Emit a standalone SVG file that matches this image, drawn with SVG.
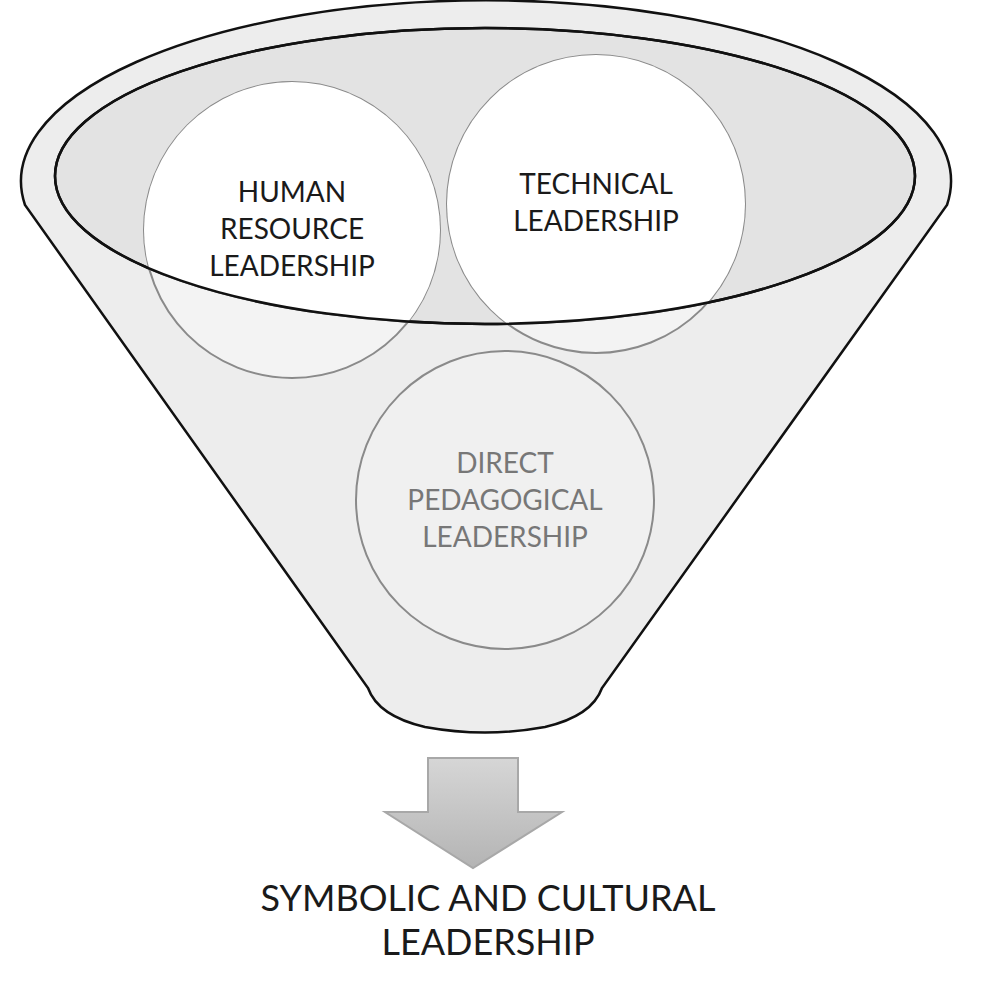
<svg xmlns="http://www.w3.org/2000/svg" width="987" height="986" viewBox="0 0 987 986">
<style>
.t{font-family:Lato,"Open Sans","Liberation Sans",sans-serif;font-size:28px;text-anchor:middle;fill:#1a1a1a}
.c{stroke:#8a8a8a;stroke-width:2}
</style>
<defs>
<clipPath id="ie"><ellipse cx="485" cy="176" rx="430" ry="148"/></clipPath>
<linearGradient id="ag" x1="0" y1="0" x2="0" y2="1"><stop offset="0" stop-color="#d6d6d6"/><stop offset="1" stop-color="#b4b4b4"/></linearGradient>
</defs>
<rect width="987" height="986" fill="#fff"/>
<g id="funnel">
<path d="M25,205 A465,181 0 1 1 947,205 L602,688 Q592,716 545,727 Q485,738 425,727 Q378,716 368,688 Z" fill="#ededed" stroke="#111" stroke-width="2.5"/>
<ellipse cx="485" cy="176" rx="430" ry="148" fill="#e3e3e3" stroke="#111" stroke-width="2.5"/>
</g>
<g id="hr">
<circle cx="292" cy="230" r="148" fill="#fff" fill-opacity="0.35" class="c"/>
<circle cx="292" cy="230" r="148" fill="#fff" clip-path="url(#ie)"/>
<text class="t" x="292" y="202">HUMAN</text>
<text class="t" x="292" y="239">RESOURCE</text>
<text class="t" x="292" y="276">LEADERSHIP</text>
</g>
<g id="tech">
<circle cx="596" cy="204" r="149" fill="#fff" fill-opacity="0.35" class="c"/>
<circle cx="596" cy="204" r="149" fill="#fff" clip-path="url(#ie)"/>
<text class="t" x="596" y="194">TECHNICAL</text>
<text class="t" x="596" y="231">LEADERSHIP</text>
</g>
<ellipse cx="485" cy="176" rx="430" ry="148" fill="none" stroke="#111" stroke-width="2.5"/>
<g id="direct">
<circle cx="505" cy="500" r="149" fill="#fff" fill-opacity="0.2" class="c"/>
<text class="t" x="505" y="473" style="fill:#777">DIRECT</text>
<text class="t" x="505" y="510" style="fill:#777">PEDAGOGICAL</text>
<text class="t" x="505" y="547" style="fill:#777">LEADERSHIP</text>
</g>
<g id="connectors">
<path d="M428,758 L518,758 L518,812 L562,812 L473,868 L385,812 L428,812 Z" fill="url(#ag)" stroke="#a8a8a8" stroke-width="2"/>
</g>
<g id="result">
<text class="t" x="488" y="911" style="font-size:36px">SYMBOLIC AND CULTURAL</text>
<text class="t" x="488" y="955" style="font-size:36px">LEADERSHIP</text>
</g>
</svg>
